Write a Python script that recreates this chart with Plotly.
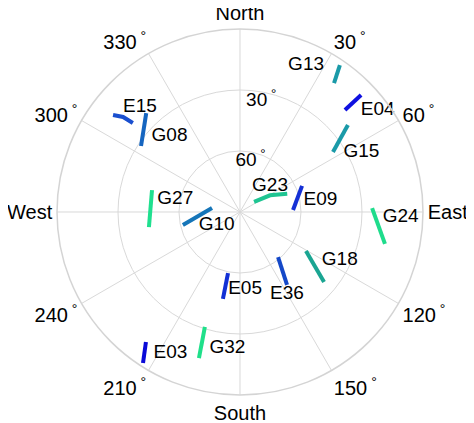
import plotly.graph_objects as go

# satellite tracks: azimuth (deg, clockwise from north) and elevation (deg)
names = ["E15", "G08", "G27", "G13", "E04", "G15", "G23", "E09",
         "G24", "G18", "E36", "E05", "G10", "G32", "E03"]
track_az = [
    [307.4, 309.1, 309.7],
    [316.5, 303.7],
    [284.0, 260.6],
    [34.2, 36.1],
    [46.0, 45.8],
    [51.1, 57.2],
    [54.5, 60.9, 68.9],
    [67.2, 87.8],
    [88.3, 102.4],
    [120.6, 129.8],
    [139.8, 147.2],
    [191.1, 191.1],
    [257.2, 278.1],
    [197.0, 195.7],
    [215.9, 212.7],
]
track_el = [
    [11.4, 15.9, 21.5],
    [23.0, 31.5],
    [45.4, 44.6],
    [2.6, 11.5],
    [7.2, 18.0],
    [21.8, 35.6],
    [81.5, 73.1, 65.1],
    [56.9, 63.9],
    [25.0, 17.0],
    [52.3, 36.2],
    [61.0, 47.3],
    [59.4, 46.4],
    [61.2, 76.1],
    [30.9, 15.4],
    [11.1, 1.7],
]

az_ticks = [0, 30, 60, 90, 120, 150, 180, 210, 240, 270, 300, 330]
az_labels = ["North", "30", "60", "East", "120", "150",
             "South", "210", "240", "West", "300", "330"]
el_ticks = [60, 30]

# styling
colors = ["#1a4fcf", "#1565c0", "#1fe08f", "#1a9aa8", "#0f10e0", "#1a9aa8",
          "#1fc592", "#1530d5", "#1fdc8c", "#1aa592", "#1448c8", "#1230d5",
          "#1575b8", "#1fe08a", "#0a0ad8"]
NB = "\u00a0"
# (point index, text position, padding spaces)
label_style = {
    "E15": (1, "top right", 0),
    "G08": (1, "top right", 2),
    "G27": (0, "bottom right", 1),
    "G13": (0, "middle left", 3),
    "E04": (1, "middle right", 3),
    "G15": (1, "middle right", 2),
    "G23": (1, "top center", 0),
    "E09": (1, "top right", 2),
    "G24": (0, "bottom right", 2),
    "G18": (0, "bottom right", 3),
    "E36": (1, "bottom center", 0),
    "E05": (1, "top right", 1),
    "G10": (0, "middle right", 3),
    "G32": (1, "top right", 2),
    "E03": (1, "top right", 2),
}

FONT = "Liberation Sans, Arial, sans-serif"

fig = go.Figure()
for name, az, el, col in zip(names, track_az, track_el, colors):
    idx, pos, pad = label_style[name]
    txt = [""] * len(az)
    txt[idx] = name + NB * pad if "left" in pos else NB * pad + name
    fig.add_trace(go.Scatterpolar(
        theta=az,
        r=[90 - e for e in el],
        mode="lines+text",
        text=txt,
        textposition=pos,
        textfont=dict(family=FONT, size=19, color="black"),
        line=dict(color=col, width=4),
        showlegend=False,
        hoverinfo="skip",
    ))

# elevation ring labels, drawn along the 10 deg bearing like the original
fig.add_trace(go.Scatterpolar(
    theta=[10] * len(el_ticks),
    r=[90 - e for e in el_ticks],
    mode="text",
    text=[str(e) + "<sup> °</sup>" for e in el_ticks],
    textposition="bottom center",
    textfont=dict(family=FONT, size=19, color="black"),
    showlegend=False,
    hoverinfo="skip",
))

fig.update_layout(
    width=474,
    height=423,
    margin=dict(l=0, r=0, t=0, b=0),
    paper_bgcolor="white",
    font=dict(family=FONT, size=19, color="black"),
    polar=dict(
        domain=dict(x=[0.1034, 0.8755], y=[0.0851, 0.9504]),
        bgcolor="white",
        angularaxis=dict(
            rotation=90,
            direction="clockwise",
            tickvals=az_ticks,
            ticktext=[t + "<sup> °</sup>" if t.isdigit() else t for t in az_labels],
            showline=True,
            linecolor="#d4d4d4",
            linewidth=1.5,
            gridcolor="#d9d9d9",
            gridwidth=1.2,
            ticks="",
            tickfont=dict(family=FONT, size=20),
        ),
        radialaxis=dict(
            range=[0, 90],
            tickvals=[90 - e for e in el_ticks],
            showticklabels=False,
            showline=False,
            ticks="",
            gridcolor="#d9d9d9",
            gridwidth=1.2,
        ),
    ),
)

fig.write_html("out.html")
